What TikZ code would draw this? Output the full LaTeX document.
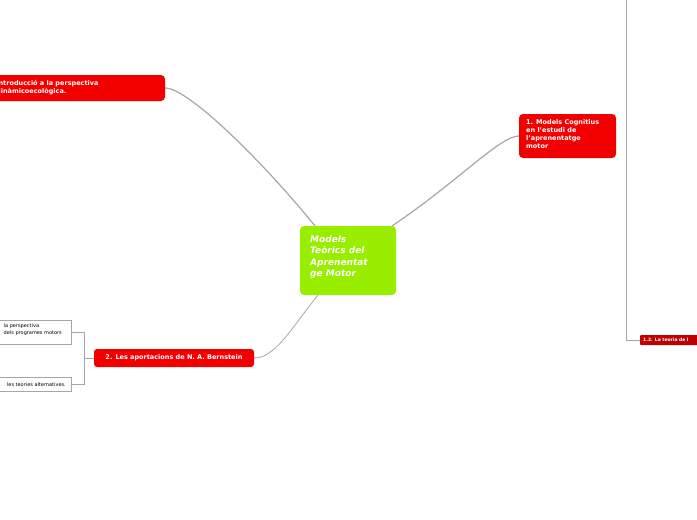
\documentclass[tikz,border=0pt]{standalone}
\usepackage{fontspec}
\setmainfont{DejaVu Sans}
\begin{document}
\begin{tikzpicture}[x=1pt,y=-1pt,
  redbox/.style={fill=red!95!black,rounded corners=3pt,text=white,font=\bfseries\fontsize{6.5}{8}\selectfont,align=left,inner sep=0pt},
  wbox/.style={draw=gray!70,fill=white,font=\fontsize{5}{6.5}\selectfont,align=left},
  conn/.style={draw=gray!70,line width=0.8pt}]
\useasboundingbox (0,0) rectangle (697,520);
\clip (0,0) rectangle (697,520);
% right tree line
\draw[gray!70] (626,-2) -- (626,340) -- (640,340);
\fill[red!75!black,rounded corners=1pt] (640,335) rectangle (710,345);
\node[anchor=west,text=white,font=\bfseries\fontsize{4.5}{5}\selectfont,inner sep=0pt] (n12) at (643,340) {1.2. La teoria de l};
% connectors
\coordinate (cTL) at (315,226);
\coordinate (cTR) at (392,226);
\coordinate (cB) at (318,295);
\draw[conn,line width=1.2pt] (cTL) .. controls (270,170) and (190,88) .. (165,88);
\draw[conn,line width=1.2pt] (cTR) .. controls (460,180) and (500,136) .. (519,136);
\draw[conn] (cB) .. controls (290,330) and (275,358) .. (254,358);
% central
\node[fill={rgb,255:red,153;green,238;blue,0},rounded corners=4pt,minimum width=96pt,minimum height=69pt] (c) at (348,260.5) {};
\node[anchor=north west,text=white,font=\bfseries\itshape\fontsize{9}{11.5}\selectfont,align=left,inner sep=0pt] (ct) at (310,235) {Models\\Teòrics del\\Aprenentat\\ge Motor};
% top-left
\fill[red!95!black,rounded corners=4pt] (-20,75) rectangle (165,101);
\node[anchor=north west,text=white,font=\bfseries\fontsize{6.5}{8.5}\selectfont,align=left,inner sep=0pt] (tl) at (-4,80) {Introducció a la perspectiva\\dinàmicoecològica.};
% right
\fill[red!95!black,rounded corners=4pt] (519,114) rectangle (616,158);
\node[anchor=north west,text=white,font=\bfseries\fontsize{6.5}{8}\selectfont,align=left,inner sep=0pt] (r1) at (526,119) {1. Models Cognitius\\en l'estudi de\\l'aprenentatge\\motor};
% bottom
\fill[red!95!black,rounded corners=3pt] (94,349) rectangle (254,367);
\node[text=white,font=\bfseries\fontsize{6.5}{8}\selectfont,inner sep=0pt] (b) at (174,358) {2. Les aportacions de N. A. Bernstein};
% bracket
\draw[gray!70] (94,358) -- (84,358);
\draw[gray!70] (71,332) -- (84,332) -- (84,384) -- (71,384);
\draw[gray!70,fill=white] (-10,320) rectangle (71,344);
\node[anchor=north east,font=\fontsize{5}{7}\selectfont,align=left,inner sep=0pt] (w1) at (62,323) {la perspectiva\\dels programes motors};
\draw[gray!70,fill=white] (-10,377) rectangle (71,391);
\node[anchor=east,font=\fontsize{5}{6}\selectfont,inner sep=0pt] (w2) at (66,384.5) {les teories alternatives.};
\end{tikzpicture}
\end{document}
